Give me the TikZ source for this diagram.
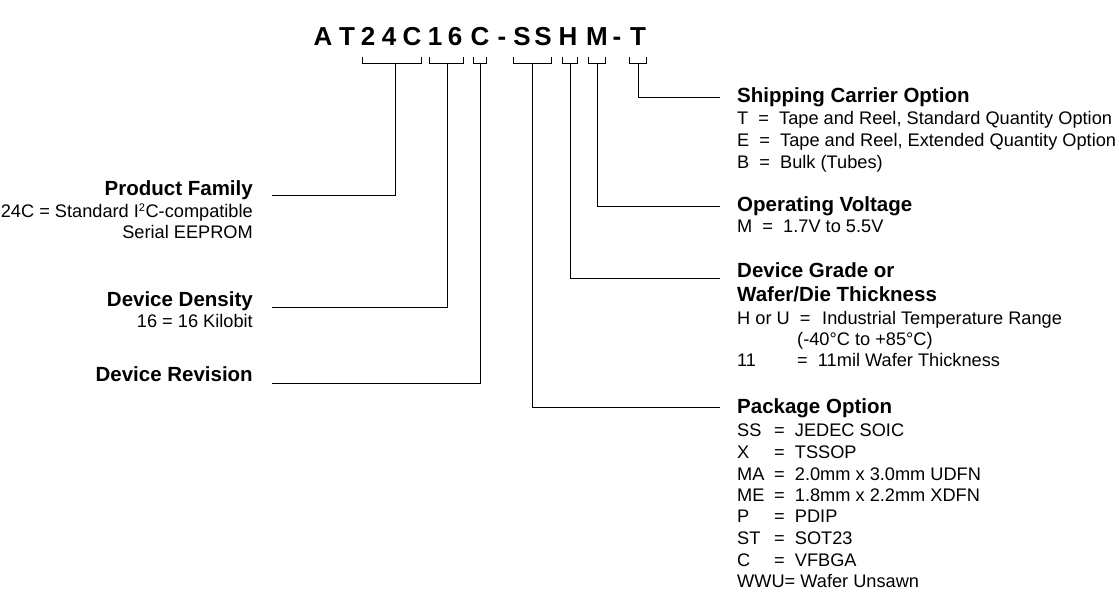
\documentclass[tikz,border=0pt]{standalone}
\usepackage{fontspec}
\setmainfont{Liberation Sans}
\begin{document}
\begin{tikzpicture}[x=1pt,y=-1pt,
  hd/.style={font=\fontsize{20.5}{22}\selectfont\bfseries,inner sep=0pt,text height=14pt,text depth=4pt},
  bd/.style={font=\fontsize{18.2}{20}\selectfont,inner sep=0pt,text height=13pt,text depth=4pt},
  ch/.style={font=\fontsize{26}{28}\selectfont\bfseries,inner sep=0pt,anchor=base},
  ln/.style={line width=0.9pt}]
\useasboundingbox (0,0) rectangle (1119,602);
% part number
\foreach \c/\x [count=\i] in {A/323,T/347,2/368,4/389,C/412,1/435,6/455,C/480,-/502,S/522,S/543,H/568,M/597,-/617,T/638}
  \node[ch] (c\i) at (\x,46) {\c};
% brackets
\foreach \n/\a/\b/\s in {b1/362/421/395,b2/429/463/447,b3/473/486/480,b4/513/551/532,b5/562/577/570,b6/588/605/597,b7/629/646/638}{
  \draw[ln] (\a,57) -- (\a,63) -- (\b,63) -- (\b,57);
  \coordinate (\n) at (\s,63);
}
% left labels
\node[hd,anchor=east] (pf) at (253,190) {Product Family};
\node[bd,anchor=east] (pf1) at (253,213) {24C = Standard I\textsuperscript{\fontsize{11}{11}\selectfont 2}C-compatible};
\node[bd,anchor=east] (pf2) at (253,234) {Serial EEPROM};
\node[hd,anchor=east] (dd) at (253,301) {Device Density};
\node[bd,anchor=east] (dd1) at (253,323) {16 = 16 Kilobit};
\node[hd,anchor=east] (dr) at (253,376) {Device Revision};
\coordinate (l1) at (272,195);
\coordinate (l2) at (272,307);
\coordinate (l3) at (272,383);
\draw[ln] (l1) -| (b1);
\draw[ln] (l2) -| (b2);
\draw[ln] (l3) -| (b3);
% right connectors
\coordinate (r1) at (720,97);
\coordinate (r2) at (720,206);
\coordinate (r3) at (720,278);
\coordinate (r4) at (720,407);
\draw[ln] (b7) |- (r1);
\draw[ln] (b6) |- (r2);
\draw[ln] (b5) |- (r3);
\draw[ln] (b4) |- (r4);
% right labels
\node[hd,anchor=west] (sc) at (737,97) {Shipping Carrier Option};
\node[bd,anchor=west] (sc1) at (737,120) {T\ \ =\ \ Tape and Reel, Standard Quantity Option};
\node[bd,anchor=west] (sc2) at (737,142) {E\ \ =\ \ Tape and Reel, Extended Quantity Option};
\node[bd,anchor=west] (sc3) at (737,164) {B\ \ =\ \ Bulk (Tubes)};
\node[hd,anchor=west] (ov) at (737,206) {Operating Voltage};
\node[bd,anchor=west] (ov1) at (737,228) {M\ \ =\ \ 1.7V to 5.5V};
\node[hd,anchor=west] (dg) at (737,272) {Device Grade or};
\node[hd,anchor=west] (dg0) at (737,296) {Wafer/Die Thickness};
\node[bd,anchor=west] (dg1) at (737,320) {H or U\ \ =};
\node[bd,anchor=west] (dg1t) at (822,320) {Industrial Temperature Range};
\node[bd,anchor=west] (dg2) at (797,341) {(-40°C to +85°C)};
\node[bd,anchor=west] (dg3) at (737,362) {11};
\node[bd,anchor=west] (dg3t) at (797,362) {=\ \ 11mil Wafer Thickness};
\node[hd,anchor=west] (po) at (737,408) {Package Option};
\foreach \k/\t/\y in {SS/JEDEC SOIC/432,X/TSSOP/454,MA/2.0mm x 3.0mm UDFN/476,ME/1.8mm x 2.2mm XDFN/497,P/PDIP/518,ST/SOT23/540,C/VFBGA/562}{
  \node[bd,anchor=west] at (737,\y) {\k};
  \node[bd,anchor=west] at (774,\y) {=\ \ \t};
}
\node[bd,anchor=west] (pw) at (737,583) {WWU=\ Wafer Unsawn};
\end{tikzpicture}
\end{document}
